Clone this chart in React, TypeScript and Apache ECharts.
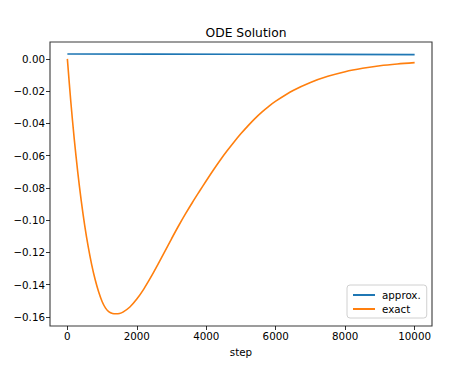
import React, { useEffect, useRef } from "react";
import * as echarts from "echarts";

const steps = [0, 100, 200, 300, 400, 500, 600, 700, 800, 900, 1000, 1100, 1200, 1300, 1400, 1500, 1600, 1800, 2000, 2200, 2400, 2600, 2800, 3000, 3200, 3400, 3600, 3800, 4000, 4200, 4400, 4600, 4800, 5000, 5200, 5400, 5600, 5800, 6000, 6500, 7000, 7500, 8000, 8500, 9000, 9500, 10000];
const exactValues = [0, -0.0267, -0.05, -0.0703, -0.088, -0.1033, -0.1164, -0.1275, -0.1368, -0.1444, -0.1504, -0.1545, -0.1568, -0.1578, -0.158, -0.1578, -0.157, -0.1538, -0.1489, -0.1427, -0.1355, -0.1277, -0.1196, -0.1115, -0.1036, -0.0961, -0.089, -0.0822, -0.0755, -0.069, -0.0628, -0.057, -0.0515, -0.0463, -0.0415, -0.037, -0.033, -0.0294, -0.0262, -0.0196, -0.0146, -0.0108, -0.0079, -0.0058, -0.0042, -0.0031, -0.0023];
const approxSteps = [0, 2500, 5000, 7500, 10000];
const approxValues = [0.0031, 0.003, 0.0029, 0.0028, 0.0027];
const xTicks = [0, 2000, 4000, 6000, 8000, 10000];
const yTicks = [-0.16, -0.14, -0.12, -0.1, -0.08, -0.06, -0.04, -0.02, 0];

const FONT = "DejaVu Sans";

export default function App() {
  const ref = useRef<HTMLDivElement>(null);
  useEffect(() => {
    const chart = echarts.init(ref.current!, null, { renderer: "svg" });
    chart.setOption({
      animation: false,
      textStyle: { fontFamily: FONT },
      title: {
        text: "ODE Solution",
        left: 241,
        top: 22,
        textAlign: "center",
        textStyle: { fontFamily: FONT, fontSize: 12.3, fontWeight: "normal", color: "#000" },
      },
      grid: {
        left: 50,
        right: 42,
        top: 42,
        bottom: 40,
        show: true,
        borderColor: "#3a3a3a",
        borderWidth: 1.1,
        backgroundColor: "transparent",
      },
      legend: {
        orient: "vertical",
        left: 347,
        top: 285,
        padding: [5, 6, 4, 6],
        itemGap: 4,
        itemWidth: 22,
        itemHeight: 2,
        icon: "rect",
        borderColor: "#d0d0d0",
        borderWidth: 1,
        borderRadius: 3,
        backgroundColor: "rgba(255,255,255,0.8)",
        textStyle: { fontFamily: FONT, fontSize: 10.3, color: "#000", padding: [0, 0, 0, 2] },
        data: ["approx.", "exact"],
      },
      xAxis: {
        type: "value",
        min: -500,
        max: 10500,
        name: "step",
        nameLocation: "middle",
        nameGap: 21,
        nameTextStyle: { fontFamily: FONT, fontSize: 10.3, color: "#000" },
        splitLine: { show: false },
        axisLine: { show: false, onZero: false },
        axisTick: { show: true, inside: false, customValues: xTicks, length: 4, lineStyle: { color: "#000", width: 0.8 } },
        axisLabel: {
          customValues: xTicks,
          fontFamily: FONT,
          fontSize: 10.3,
          color: "#000",
          margin: 5,
          formatter: (v: number) => String(v),
        },
      },
      yAxis: {
        type: "value",
        min: -0.1656,
        max: 0.0105,
        splitLine: { show: false },
        axisLine: { show: false, onZero: false },
        axisTick: { show: true, inside: false, customValues: yTicks, length: 4, lineStyle: { color: "#000", width: 0.8 } },
        axisLabel: {
          customValues: yTicks,
          fontFamily: FONT,
          fontSize: 10.3,
          color: "#000",
          margin: 5,
          formatter: (v: number) => (v < 0 ? "\u2212" + Math.abs(v).toFixed(2) : Math.abs(v).toFixed(2)),
        },
      },
      series: [
        {
          name: "approx.",
          type: "line",
          data: approxSteps.map((s, i) => [s, approxValues[i]]),
          showSymbol: false,
          lineStyle: { color: "#1f77b4", width: 1.6 },
          itemStyle: { color: "#1f77b4" },
        },
        {
          name: "exact",
          type: "line",
          smooth: 0.3,
          data: steps.map((s, i) => [s, exactValues[i]]),
          showSymbol: false,
          lineStyle: { color: "#ff7f0e", width: 1.6 },
          itemStyle: { color: "#ff7f0e" },
        },
      ],
    });
    return () => chart.dispose();
  }, []);
  return <div ref={ref} style={{ width: 474, height: 366, position: "absolute", left: 0, top: 0 }} />;
}
